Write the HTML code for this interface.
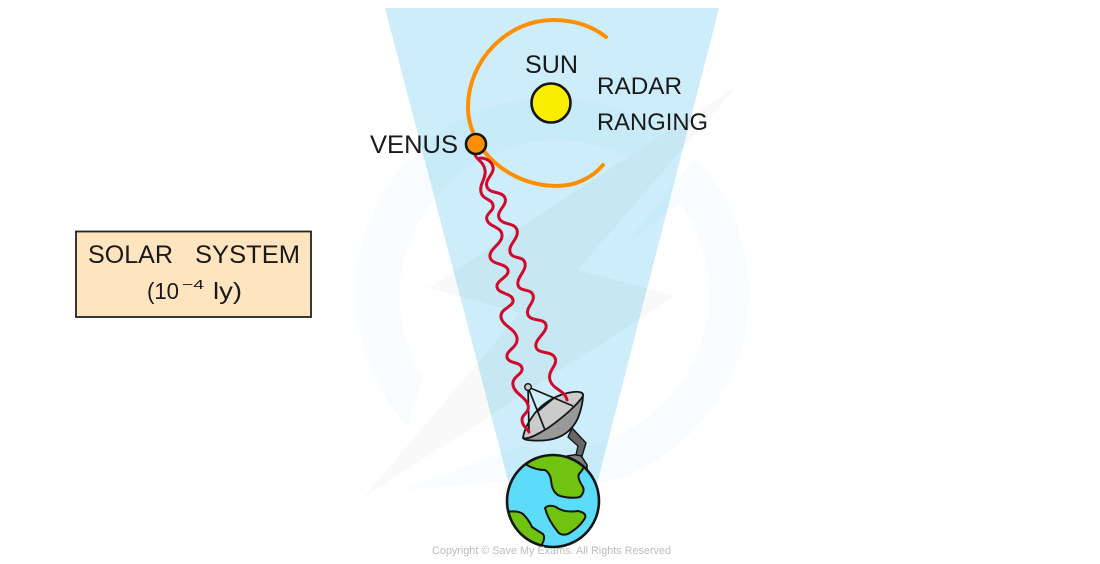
<!DOCTYPE html>
<html>
<head>
<meta charset="utf-8">
<style>
html,body{margin:0;padding:0;background:#fff}
svg{display:block}
text{font-family:"Liberation Sans","DejaVu Sans",sans-serif;fill:#1a1a1a}
</style>
</head>
<body>
<svg width="1100" height="564" viewBox="0 0 1100 564" xmlns="http://www.w3.org/2000/svg">
<!-- beam -->
<polygon points="385,8 719,8 597,484 509,484" fill="#ccedf9"/>
<!-- watermark -->
<g fill="#35b4f0" opacity=".028">
<path d="M664 133A196 196 0 0 0 408 427L423 378A156 156 0 0 1 626 157Z"/>
<path d="M695 158A196 196 0 0 1 500 482L403 490L520 446A156 156 0 0 0 680 203L623 247Z"/>
</g>
<polygon points="738,85 578,270 675,296 363,498 520,313 428,288" fill="#000" opacity=".024"/>

<!-- orbit -->
<path d="M606 37C592 26 574 20 553 20C508 20 468 60 468 107C468 150 510 186 557 186C575 186 592 178 603 165" fill="none" stroke="#ff8f00" stroke-width="4" stroke-linecap="round"/>
<!-- sun -->
<circle cx="551" cy="103" r="19.5" fill="#f9ee00" stroke="#151515" stroke-width="2.6"/>

<!-- stand -->
<path d="M567 456L580 454L587 465L587 476L560 470Z" fill="#808080" stroke="#151515" stroke-width="1.6" stroke-linejoin="round"/>
<polygon points="572,428 586,443 582,456 576,455 578,446 568,437" fill="#666" stroke="#151515" stroke-width="1.4" stroke-linejoin="round"/>

<!-- dish -->
<path d="M523 438C524 441 540 441 548 440C562 438 572 431 578 418C581 410 583 402 583 395L540 425Z" fill="#999" stroke="#151515" stroke-width="1.8" stroke-linejoin="round"/>
<path d="M523 438C524 430 529 421 535 413C543 403 557 394 573 392C580 391 584 393 583 396C578 404 565 416 548 428C538 434 528 440 523 438Z" fill="#cbcbcb" stroke="#151515" stroke-width="1.8" stroke-linejoin="round"/>
<path d="M528 387L529 431M528 387L545 430M528 387L573 406M537 412L554 398" fill="none" stroke="#151515" stroke-width="1.7"/>
<circle cx="528" cy="387" r="3.3" fill="#c9c9c9" stroke="#151515" stroke-width="1.4"/>

<!-- waves -->
<g fill="none" stroke="#cf0a2c" stroke-width="3" stroke-linecap="round" stroke-linejoin="round">
<path d="M475 155C477 160 483.6 161.6 485 170S479.2 183.9 481 192S491.6 198.4 493 205S484.9 213 487 220S501.3 226.3 502 235S488.6 248.9 490 257S506.3 263 508 270S495.9 280 497 287S512 293 513 300S500 308.2 501 317S515.6 328.6 517 338S505.9 350 507 357S520.6 361.4 522 368S511.6 376.3 513 385S525.9 396.9 528 405S521.7 413.7 522 420S527 428 529 432"/>
<path d="M480 158C485 158 491.3 160.3 493 167S484.2 179.7 487 187S502.2 190.7 505 198S496.2 210.6 499 218S514.5 222 517 230S508.2 244.3 510 252S523.2 255.3 525 263S516.2 277.6 518 285S530.6 288 533 295S524.9 308 528 315S544.2 317.6 546 325S533.9 339.3 536 347S551.8 350.3 555 358S547.2 370.2 550 380S565 390 567 400"/>
</g>

<!-- earth -->
<defs><clipPath id="e"><circle cx="553" cy="501" r="46"/></clipPath></defs>
<circle cx="553" cy="501" r="46" fill="#5cdcf8"/>
<g clip-path="url(#e)" fill="#70c40f" stroke="#151515" stroke-width="2" stroke-linejoin="round">
<path d="M527 465Q535 470 545 470Q550 473 551 480Q552 493 560 496Q572 499 580 497Q585 492 583 487Q577 478 579 474Q583 470 585 464L560 448L527 455Z"/>
<path d="M545 508Q549 504 556 507Q564 513 578 511Q587 513 585 518Q580 527 568 534Q561 536 558 532Q548 520 545 508Z"/>
<path d="M505 512Q518 510 523 514Q529 520 532 527Q538 531 543 534Q546 538 541 546L500 540Z"/>
</g>
<circle cx="553" cy="501" r="46" fill="none" stroke="#151515" stroke-width="2.6"/>

<!-- venus -->
<circle cx="476" cy="144" r="10" fill="#ff8f00" stroke="#151515" stroke-width="2.6"/>

<!-- labels -->
<text x="525" y="73" font-size="25" textLength="53" lengthAdjust="spacingAndGlyphs">SUN</text>
<text x="597" y="94" font-size="24" textLength="85" lengthAdjust="spacingAndGlyphs">RADAR</text>
<text x="597" y="130" font-size="24" textLength="111" lengthAdjust="spacingAndGlyphs">RANGING</text>
<text x="370" y="153" font-size="25" textLength="88" lengthAdjust="spacingAndGlyphs">VENUS</text>

<!-- box -->
<rect x="76" y="231.5" width="235" height="85.5" fill="#fee5bf" stroke="#222" stroke-width="1.8"/>
<text x="88" y="263" font-size="25" textLength="85" lengthAdjust="spacingAndGlyphs">SOLAR</text>
<text x="195" y="263" font-size="25" textLength="105" lengthAdjust="spacingAndGlyphs">SYSTEM</text>
<text x="147" y="299" font-size="23" textLength="32" lengthAdjust="spacingAndGlyphs">(10</text>
<text x="182" y="289" font-size="13" textLength="22" lengthAdjust="spacingAndGlyphs">−4</text>
<text x="213" y="299" font-size="23" textLength="29" lengthAdjust="spacingAndGlyphs">ly)</text>

<text x="432" y="554" font-size="11" textLength="239" lengthAdjust="spacingAndGlyphs" style="fill:#bdbdbd">Copyright © Save My Exams. All Rights Reserved</text>
</svg>
</body>
</html>
